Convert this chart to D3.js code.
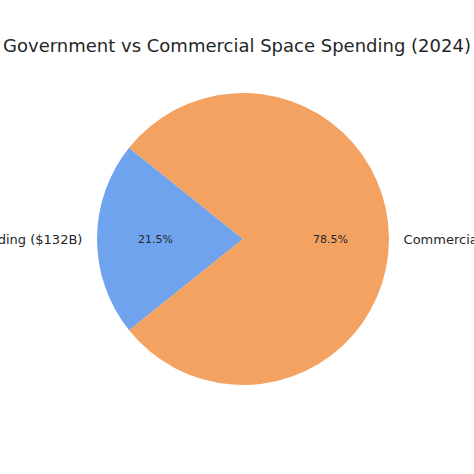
<!DOCTYPE html>
<html><head><meta charset="utf-8">
<script src="https://cdn.jsdelivr.net/npm/d3@7"></script>
<style>body{margin:0;background:#fff}svg{display:block}</style>
</head><body><svg id="c" width="474" height="474"></svg>
<script>
const categories = ["Government Spending ($132B)", "Commercial Spending ($482B)"];
const values = [132, 482];
const colors = ["#6fa3ee", "#f4a261"];
const svg = d3.select("#c");
const cx = 243, cy = 239, r = 146;
const font = "DejaVu Sans, sans-serif";
svg.append("text").attr("x", 237).attr("y", 52).attr("text-anchor", "middle")
  .attr("font-family", font).attr("font-size", 18).attr("fill", "#262626")
  .text("Government vs Commercial Space Spending (2024)");
const total = d3.sum(values);
const start = -Math.PI/2 - (values[0]/total)*Math.PI; // centre the first slice on the left
const pie = d3.pie().sort(null).startAngle(start).endAngle(start + 2*Math.PI);
const arcs = pie(values);
const arc = d3.arc().innerRadius(0).outerRadius(r);
const g = svg.append("g").attr("transform", `translate(${cx},${cy})`);
g.selectAll("path").data(arcs).join("path").attr("d", arc).attr("fill", (d,i)=>colors[i]);
arcs.forEach((d,i)=>{
  const a = (d.startAngle + d.endAngle)/2;
  const sx = Math.sin(a), sy = -Math.cos(a);
  g.append("text").attr("x", sx*r*1.1).attr("y", sy*r*1.1).attr("dy", "0.35em")
    .attr("text-anchor", sx < 0 ? "end" : "start")
    .attr("font-family", font).attr("font-size", 13).attr("fill", "#262626")
    .text(categories[i]);
  g.append("text").attr("x", sx*r*0.6).attr("y", sy*r*0.6).attr("dy", "0.35em")
    .attr("text-anchor", "middle")
    .attr("font-family", font).attr("font-size", 11).attr("fill", "#262626")
    .text((values[i]/total*100).toFixed(1) + "%");
});
</script></body></html>
